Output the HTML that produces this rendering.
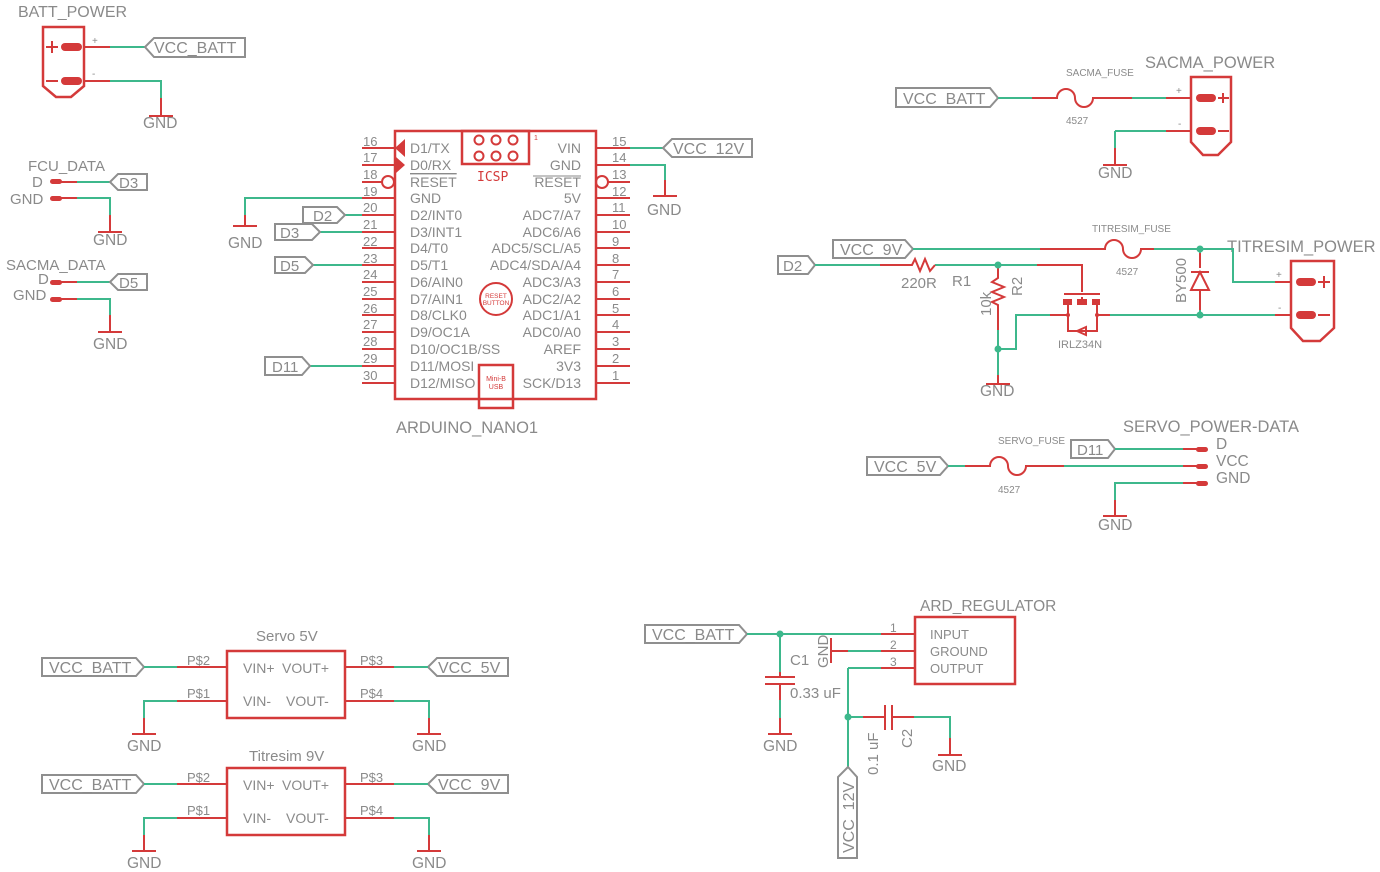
<!DOCTYPE html>
<html><head><meta charset="utf-8"><style>
html,body{margin:0;padding:0;background:#fff;}
svg{display:block;}
text{font-family:"Liberation Sans",sans-serif;fill:#8a8a8a;}
.r{stroke:#d43a3a;stroke-width:2;fill:none;}
.g{stroke:#3db88c;stroke-width:2;fill:none;}
.lb{stroke:#8f8f8f;stroke-width:2;fill:#fff;}
.bx{stroke:#d43a3a;stroke-width:2.5;fill:none;}
.pad{fill:#d43a3a;}
.dot{fill:#3db88c;}
.rt{fill:#d43a3a;}
.gn{font-size:15.5px;}
</style></head><body>
<svg width="1380" height="872" viewBox="0 0 1380 872" xmlns="http://www.w3.org/2000/svg">

<!-- BATT_POWER -->
<text x="18" y="17" font-size="16">BATT_POWER</text>
<path class="bx" stroke-width="4" d="M43,27 V86 L56,97 H71 L84,86 V27 Z"/>
<rect class="pad" x="61" y="43" width="21" height="8" rx="4"/>
<rect class="pad" x="61" y="77" width="21" height="8" rx="4"/>
<path class="r" stroke-width="3" d="M46,47 H58 M52,41 V53 M46,81 H58"/>
<text x="92" y="44" font-size="10">+</text><text x="92" y="77" font-size="10">-</text>
<path class="r" d="M84,47 H110 M84,81 H110 M161,98 V116 M149,116 H173"/>
<path class="g" d="M110,47 H145 M110,81 H161 V98"/>
<path class="lb" d="M145,47 L154,38 H245 V57 H154 Z"/>
<text x="154" y="53" font-size="16">VCC_BATT</text>
<text x="143" y="128" class="gn">GND</text>

<!-- FCU_DATA -->
<text x="28" y="171" font-size="15">FCU_DATA</text>
<text x="32" y="187" font-size="15">D</text>
<text x="10" y="204" font-size="15">GND</text>
<rect class="pad" x="50" y="179" width="12" height="5" rx="2.5"/>
<rect class="pad" x="50" y="196" width="12" height="5" rx="2.5"/>
<path class="r" d="M60,182 H77 M60,198 H77 M110,215 V232 M98,232 H122"/>
<path class="g" d="M77,182 H110 M77,198 H110 V215"/>
<path class="lb" d="M110,182 L118,174 H147 V190 H118 Z"/>
<text x="119" y="188" font-size="15">D3</text>
<text x="93" y="245" class="gn">GND</text>

<!-- SACMA_DATA -->
<text x="6" y="270" font-size="15">SACMA_DATA</text>
<text x="38" y="284" font-size="15">D</text>
<text x="13" y="300" font-size="15">GND</text>
<rect class="pad" x="50" y="280" width="12" height="5" rx="2.5"/>
<rect class="pad" x="50" y="297" width="12" height="5" rx="2.5"/>
<path class="r" d="M60,282 H77 M60,299 H77 M110,315 V332 M98,332 H122"/>
<path class="g" d="M77,282 H110 M77,299 H110 V315"/>
<path class="lb" d="M110,282 L118,274 H147 V290 H118 Z"/>
<text x="119" y="288" font-size="15">D5</text>
<text x="93" y="349" class="gn">GND</text>

<!-- ARDUINO -->
<rect class="bx" x="395" y="131" width="201" height="268"/>
<rect class="bx" x="462" y="131" width="67" height="33"/>
<g class="r">
<circle cx="479" cy="140" r="4.5"/><circle cx="496" cy="140" r="4.5"/><circle cx="513" cy="140" r="4.5"/>
<circle cx="479" cy="156" r="4.5"/><circle cx="496" cy="156" r="4.5"/><circle cx="513" cy="156" r="4.5"/>
</g>
<text x="534" y="140" font-size="7" style="fill:#d43a3a">1</text>
<text x="477" y="181" font-size="13" style="fill:#d43a3a;font-family:'DejaVu Sans Mono',monospace">ICSP</text>
<circle class="r" cx="496" cy="299" r="16"/>
<text x="496" y="298" font-size="6.5" text-anchor="middle" style="fill:#d43a3a">RESET</text>
<text x="496" y="305" font-size="6.5" text-anchor="middle" style="fill:#d43a3a">BUTTON</text>
<rect class="bx" x="479" y="365" width="34" height="43"/>
<text x="496" y="381" font-size="7" text-anchor="middle" style="fill:#d43a3a">Mini-B</text>
<text x="496" y="389" font-size="7" text-anchor="middle" style="fill:#d43a3a">USB</text>
<path fill="#d43a3a" d="M395,148 L405,139 L405,157 Z M396,157 L405,165 L396,173 Z"/>
<circle class="r" cx="388" cy="182" r="6" fill="#fff"/>
<circle class="r" cx="602" cy="182" r="6" fill="#fff"/>
<g class="r">
<path d="M362,148H395M362,165H395M362,182H382M362,198H395M362,215H395M362,232H395M362,248H395M362,265H395M362,282H395M362,299H395M362,315H395M362,332H395M362,349H395M362,366H395M362,383H395"/>
<path d="M596,148H630M596,165H630M608,182H630M596,198H630M596,215H630M596,232H630M596,248H630M596,265H630M596,282H630M596,299H630M596,315H630M596,332H630M596,349H630M596,366H630M596,383H630"/>
</g>
<g font-size="13">
<text x="363" y="146">16</text><text x="363" y="162">17</text><text x="363" y="179">18</text><text x="363" y="196">19</text><text x="363" y="212">20</text><text x="363" y="229">21</text><text x="363" y="246">22</text><text x="363" y="263">23</text><text x="363" y="279">24</text><text x="363" y="296">25</text><text x="363" y="313">26</text><text x="363" y="329">27</text><text x="363" y="346">28</text><text x="363" y="363">29</text><text x="363" y="380">30</text>
<text x="612" y="146">15</text><text x="612" y="162">14</text><text x="612" y="179">13</text><text x="612" y="196">12</text><text x="612" y="212">11</text><text x="612" y="229">10</text><text x="612" y="246">9</text><text x="612" y="263">8</text><text x="612" y="279">7</text><text x="612" y="296">6</text><text x="612" y="313">5</text><text x="612" y="329">4</text><text x="612" y="346">3</text><text x="612" y="363">2</text><text x="612" y="380">1</text>
</g>
<g font-size="14">
<text x="410" y="153">D1/TX</text><text x="410" y="170">D0/RX</text><text x="410" y="187" text-decoration="overline">RESET</text><text x="410" y="203">GND</text><text x="410" y="220">D2/INT0</text><text x="410" y="237">D3/INT1</text><text x="410" y="253">D4/T0</text><text x="410" y="270">D5/T1</text><text x="410" y="287">D6/AIN0</text><text x="410" y="304">D7/AIN1</text><text x="410" y="320">D8/CLK0</text><text x="410" y="337">D9/OC1A</text><text x="410" y="354">D10/OC1B/SS</text><text x="410" y="371">D11/MOSI</text><text x="410" y="388">D12/MISO</text>
</g>
<g font-size="14" text-anchor="end">
<text x="581" y="153">VIN</text><text x="581" y="170">GND</text><text x="581" y="187">RESET</text><text x="581" y="203">5V</text><text x="581" y="220">ADC7/A7</text><text x="581" y="237">ADC6/A6</text><text x="581" y="253">ADC5/SCL/A5</text><text x="581" y="270">ADC4/SDA/A4</text><text x="581" y="287">ADC3/A3</text><text x="581" y="304">ADC2/A2</text><text x="581" y="320">ADC1/A1</text><text x="581" y="337">ADC0/A0</text><text x="581" y="354">AREF</text><text x="581" y="371">3V3</text><text x="581" y="388">SCK/D13</text>
</g>
<path stroke="#8a8a8a" stroke-width="1" d="M533,176H581"/>
<text x="396" y="433" font-size="16.5">ARDUINO_NANO1</text>
<path class="g" d="M362,198 H245 V215 M345,215 H362 M320,232 H362 M313,265 H362 M310,366 H362 M630,148 H663 M630,165 H665 V180"/>
<path class="r" d="M245,215 V226 M233,226 H257 M665,180 V196 M653,196 H677"/>
<text x="228" y="248" class="gn">GND</text>
<text x="647" y="215" class="gn">GND</text>
<path class="lb" d="M303,207 H337 L345,215 L337,223 H303 Z"/><text x="313" y="221" font-size="15">D2</text>
<path class="lb" d="M275,224 H312 L320,232 L312,240 H275 Z"/><text x="280" y="238" font-size="15">D3</text>
<path class="lb" d="M275,257 H305 L313,265 L305,273 H275 Z"/><text x="280" y="271" font-size="15">D5</text>
<path class="lb" d="M265,357 H302 L310,366 L302,375 H265 Z"/><text x="272" y="372" font-size="15">D11</text>
<path class="lb" d="M663,148 L672,139 H752 V157 H672 Z"/><text x="673" y="154" font-size="16">VCC_12V</text>

<!-- SACMA_POWER -->
<text x="1145" y="68" font-size="16.5">SACMA_POWER</text>
<text x="1066" y="76" font-size="10">SACMA_FUSE</text>
<text x="1066" y="124" font-size="10">4527</text>
<path class="lb" d="M896,88 H990 L998,98 L990,107 H896 Z"/><text x="903" y="104" font-size="16">VCC_BATT</text>
<path class="g" d="M998,98 H1032 M1132,98 H1166 M1115,131 H1166 M1115,131 V148"/>
<path class="r" d="M1032,98 H1057 A9,9 0 0 1 1075,98 A9,9 0 0 0 1093,98 H1106 M1106,98 H1132 M1166,98 H1192 M1166,131 H1192 M1115,148 V165 M1103,165 H1127"/>
<text x="1176" y="94" font-size="10">+</text><text x="1178" y="127" font-size="10">-</text>
<path class="bx" stroke-width="4" d="M1191,77 V142 L1203,155 H1218 L1231,142 V77 Z"/>
<rect class="pad" x="1196" y="94" width="20" height="8" rx="4"/><rect class="pad" x="1196" y="127" width="20" height="8" rx="4"/>
<path class="r" stroke-width="3" d="M1218,98 H1229 M1223,93 V103 M1218,131 H1229"/>
<text x="1098" y="178" class="gn">GND</text>

<!-- TITRESIM section -->
<text x="1227" y="252" font-size="16.5">TITRESIM_POWER</text>
<text x="1092" y="232" font-size="10">TITRESIM_FUSE</text>
<text x="1116" y="275" font-size="10">4527</text>
<path class="lb" d="M833,240 H905 L913,249 L905,258 H833 Z"/><text x="840" y="255" font-size="16">VCC_9V</text>
<path class="lb" d="M778,256 H808 L815,265 L808,274 H778 Z"/><text x="783" y="271" font-size="15">D2</text>
<path class="g" d="M913,249 H1040 M1154,249 H1233 V282 H1275 M815,265 H880 M935,265 H1037 M998,330 V375 M998,349 H1016 V315 H1050 M1110,315 H1275"/>
<path class="r" d="M1040,249 H1105 A9,9 0 0 1 1123,249 A9,9 0 0 0 1141,249 H1154 M880,265 H912 L915,259 L920,271 L925,259 L930,271 L935,265 M1037,265 H1082 V292 M998,265 V278 L992,282 L1004,287 L992,292 L1004,297 L992,302 L998,305 V330 M1064,294 H1100 M1068,305 V315 M1097,305 V315 M1082,305 V297 M1050,315 H1068 V331 H1097 V315 H1110 M1077,331 L1086,327 V335 Z M1086,327 V335 M1275,282 H1292 M1275,315 H1292 M998,375 V384 M986,384 H1010"/>
<path fill="#d43a3a" d="M1078,305 L1082,297 L1086,305 Z M1063,299 H1072 V305 H1063Z M1077,299 H1087 V305 H1077Z M1092,299 H1100 V305 H1092Z"/>
<path class="r" d="M1200,253 V268 M1191,272 H1209 M1200,272 L1191,290 H1209 Z M1200,290 V310"/>
<path class="g" d="M1200,249 V253 M1200,310 V315"/>
<circle class="dot" cx="998" cy="265" r="3.5"/><circle class="dot" cx="998" cy="349" r="3.5"/><circle class="dot" cx="1200" cy="249" r="3.5"/><circle class="dot" cx="1200" cy="315" r="3.5"/>
<circle class="rt" cx="1068" cy="315" r="2"/><circle class="rt" cx="1097" cy="315" r="2"/>
<text x="901" y="288" font-size="15">220R</text><text x="952" y="286" font-size="15">R1</text>
<text transform="translate(991,316) rotate(-90)" font-size="15">10k</text>
<text transform="translate(1022,296) rotate(-90)" font-size="15">R2</text>
<text transform="translate(1186,303) rotate(-90)" font-size="15">BY500</text>
<text x="1058" y="348" font-size="11">IRLZ34N</text>
<text x="980" y="396" class="gn">GND</text>
<text x="1276" y="278" font-size="10">+</text><text x="1278" y="311" font-size="10">-</text>
<path class="bx" stroke-width="4" d="M1291,261 V328 L1303,341 H1320 L1334,328 V261 Z"/>
<rect class="pad" x="1296" y="278" width="20" height="8" rx="4"/><rect class="pad" x="1296" y="311" width="20" height="8" rx="4"/>
<path class="r" stroke-width="3" d="M1318,282 H1330 M1324,276 V288 M1318,315 H1330"/>

<!-- SERVO_POWER-DATA -->
<text x="1123" y="432" font-size="16.5">SERVO_POWER-DATA</text>
<text x="998" y="444" font-size="10">SERVO_FUSE</text>
<text x="998" y="493" font-size="10">4527</text>
<text x="1216" y="449" font-size="15.5">D</text><text x="1216" y="466" font-size="15.5">VCC</text><text x="1216" y="483" font-size="15.5">GND</text>
<path class="lb" d="M1071,440 H1108 L1115,449 L1108,458 H1071 Z"/><text x="1077" y="455" font-size="15">D11</text>
<path class="lb" d="M867,457 H940 L948,466 L940,475 H867 Z"/><text x="874" y="472" font-size="16">VCC_5V</text>
<path class="g" d="M1115,449 H1183 M948,466 H965 M1064,466 H1183 M1183,483 H1115 V500"/>
<path class="r" d="M965,466 H990 A9,9 0 0 1 1008,466 A9,9 0 0 0 1026,466 H1064 M1183,449 H1198 M1183,466 H1198 M1183,483 H1198 M1115,500 V516 M1103,516 H1127"/>
<rect class="pad" x="1196" y="447" width="12" height="5" rx="2.5"/><rect class="pad" x="1196" y="464" width="12" height="5" rx="2.5"/><rect class="pad" x="1196" y="481" width="12" height="5" rx="2.5"/>
<text x="1098" y="530" class="gn">GND</text>

<!-- Servo 5V / Titresim 9V modules -->
<text x="256" y="641" font-size="15">Servo 5V</text>
<g>
<rect class="bx" x="227" y="651" width="118" height="67"/>
<text x="243" y="673" font-size="14">VIN+</text><text x="282" y="673" font-size="14">VOUT+</text>
<text x="243" y="706" font-size="14">VIN-</text><text x="286" y="706" font-size="14">VOUT-</text>
<text x="187" y="665" font-size="13">P$2</text><text x="187" y="698" font-size="13">P$1</text>
<text x="360" y="665" font-size="13">P$3</text><text x="360" y="698" font-size="13">P$4</text>
<path class="lb" d="M42,658 H136 L144,667 L136,676 H42 Z"/><text x="49" y="673" font-size="16">VCC_BATT</text>
<path class="lb" d="M428,667 L437,658 H508 V676 H437 Z"/><text x="438" y="673" font-size="16">VCC_5V</text>
<path class="g" d="M144,667 H177 M177,701 H144 V718 M394,667 H428 M394,701 H429 V718"/>
<path class="r" d="M177,667 H227 M177,701 H227 M345,667 H394 M345,701 H394 M144,718 V734 M132,734 H156 M429,718 V734 M417,734 H441"/>
<text x="127" y="751" class="gn">GND</text><text x="412" y="751" class="gn">GND</text>
</g>
<g transform="translate(0,117)">
<rect class="bx" x="227" y="651" width="118" height="67"/>
<text x="243" y="673" font-size="14">VIN+</text><text x="282" y="673" font-size="14">VOUT+</text>
<text x="243" y="706" font-size="14">VIN-</text><text x="286" y="706" font-size="14">VOUT-</text>
<text x="187" y="665" font-size="13">P$2</text><text x="187" y="698" font-size="13">P$1</text>
<text x="360" y="665" font-size="13">P$3</text><text x="360" y="698" font-size="13">P$4</text>
<path class="lb" d="M42,658 H136 L144,667 L136,676 H42 Z"/><text x="49" y="673" font-size="16">VCC_BATT</text>
<path class="lb" d="M428,667 L437,658 H508 V676 H437 Z"/><text x="438" y="673" font-size="16">VCC_9V</text>
<path class="g" d="M144,667 H177 M177,701 H144 V718 M394,667 H428 M394,701 H429 V718"/>
<path class="r" d="M177,667 H227 M177,701 H227 M345,667 H394 M345,701 H394 M144,718 V734 M132,734 H156 M429,718 V734 M417,734 H441"/>
<text x="127" y="751" class="gn">GND</text><text x="412" y="751" class="gn">GND</text>
</g>
<text x="249" y="761" font-size="15">Titresim 9V</text>

<!-- ARD_REGULATOR -->
<text x="920" y="611" font-size="15.5">ARD_REGULATOR</text>
<rect class="bx" x="915" y="617" width="100" height="67"/>
<text x="930" y="639" font-size="13">INPUT</text><text x="930" y="656" font-size="13">GROUND</text><text x="930" y="673" font-size="13">OUTPUT</text>
<text x="890" y="632" font-size="12">1</text><text x="890" y="649" font-size="12">2</text><text x="890" y="666" font-size="12">3</text>
<path class="lb" d="M645,625 H739 L747,634 L739,643 H645 Z"/><text x="652" y="640" font-size="16">VCC_BATT</text>
<path class="g" d="M747,634 H881 M848,651 H881 M848,668 H881 M848,668 V717 M780,634 V672 M780,700 V718 M848,717 H863 M914,717 H950 V738 M848,717 V767"/>
<path class="r" d="M881,634 H915 M881,651 H915 M881,668 H915 M832,651 H848 M831,638 V663 M780,672 V676 M765,677 H795 M765,684 H795 M780,685 V700 M780,718 V734 M768,734 H792 M863,717 H885 M885,705 V730 M892,705 V730 M892,717 H914 M950,738 V755 M938,755 H962"/>
<circle class="dot" cx="780" cy="634" r="3.5"/><circle class="dot" cx="848" cy="717" r="3.5"/>
<text x="790" y="665" font-size="15">C1</text>
<text transform="translate(828,668) rotate(-90)" font-size="15">GND</text>
<text x="790" y="698" font-size="15">0.33 uF</text>
<text x="763" y="751" class="gn">GND</text>
<text x="932" y="771" class="gn">GND</text>
<text transform="translate(878,775) rotate(-90)" font-size="15">0.1 uF</text>
<text transform="translate(912,748) rotate(-90)" font-size="15">C2</text>
<path class="lb" d="M848,767 L857,777 V858 H838 V777 Z"/>
<text transform="translate(854,853) rotate(-90)" font-size="16">VCC_12V</text>
</svg>
</body></html>
